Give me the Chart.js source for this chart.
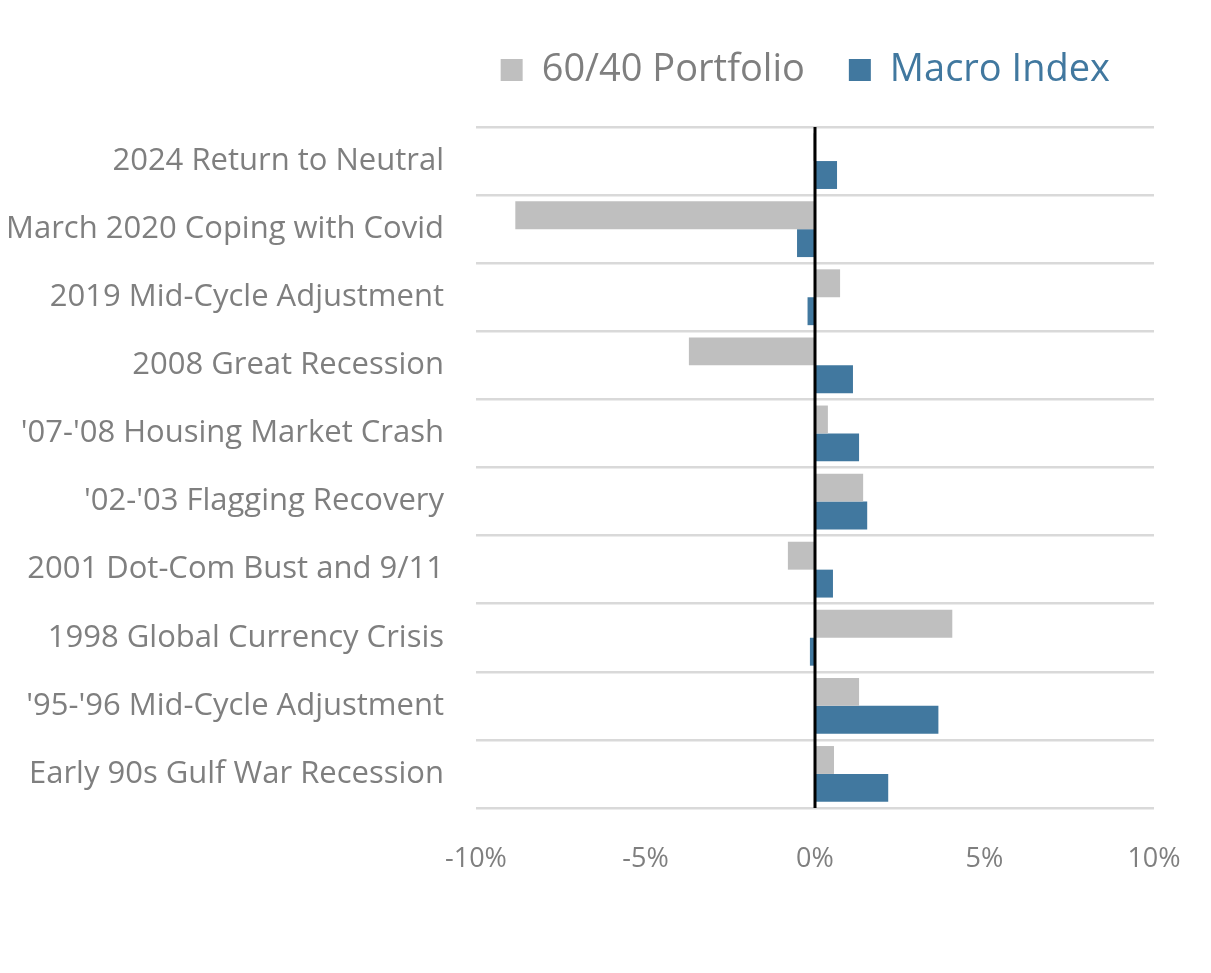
<!DOCTYPE html>
<html>
<head>
<meta charset="utf-8">
<script src="https://cdn.jsdelivr.net/npm/chart.js@4.4.1/dist/chart.umd.min.js"></script>
<style>
  html, body { margin: 0; padding: 0; background: #fff; }
  #wrap { width: 1211px; height: 973px; }
</style>
</head>
<body>
<div id="wrap"><canvas id="chart"></canvas></div>
<script>
// 시나리오별 수익률 (%)
const categories = [
    "2024 Return to Neutral",
    "March 2020 Coping with Covid",
    "2019 Mid-Cycle Adjustment",
    "2008 Great Recession",
    "'07-'08 Housing Market Crash",
    "'02-'03 Flagging Recovery",
    "2001 Dot-Com Bust and 9/11",
    "1998 Global Currency Crisis",
    "'95-'96 Mid-Cycle Adjustment",
    "Early 90s Gulf War Recession"
];
const portfolio6040 = [-0.05, -8.84, 0.74, -3.72, 0.38, 1.42, -0.80, 4.05, 1.30, 0.56];
const macroIndex = [0.65, -0.53, -0.22, 1.12, 1.30, 1.54, 0.53, -0.15, 3.64, 2.16];
const xTicks = [-10, -5, 0, 5, 10];

const GRAY = '#bfbfbf';
const BLUE = '#41789f';
const TEXT = '#7f7f7f';
const FONT = "'Open Sans', 'Noto Sans', sans-serif";

// 0% 세로선 (막대 위에 그림)
const zeroLine = {
    id: 'zeroLine',
    afterDatasetsDraw(chart) {
        const { ctx, chartArea, scales } = chart;
        const x = scales.x.getPixelForValue(0);
        ctx.save();
        ctx.strokeStyle = '#000';
        ctx.lineWidth = 3;
        ctx.beginPath();
        ctx.moveTo(x, chartArea.top);
        ctx.lineTo(x, chartArea.bottom);
        ctx.stroke();
        ctx.restore();
    }
};

// 범례 아래 여백 추가
const legendSpacer = {
    id: 'legendSpacer',
    beforeInit(chart) {
        const origFit = chart.legend.fit;
        chart.legend.fit = function () {
            origFit.call(this);
            this.height += 28;
        };
    }
};

const ctx = document.getElementById('chart').getContext('2d');
new Chart(ctx, {
    type: 'bar',
    data: {
        labels: categories,
        datasets: [{
            label: '60/40 Portfolio',
            data: portfolio6040,
            backgroundColor: GRAY,
            borderWidth: 0,
            categoryPercentage: 0.82,
            barPercentage: 1.0
        }, {
            label: 'Macro Index',
            data: macroIndex,
            backgroundColor: BLUE,
            borderWidth: 0,
            categoryPercentage: 0.82,
            barPercentage: 1.0
        }]
    },
    options: {
        indexAxis: 'y',
        responsive: true,
        maintainAspectRatio: false,
        animation: false,
        layout: { padding: { left: 8, right: 57, top: 7, bottom: 0 } },
        plugins: {
            tooltip: { enabled: false },
            legend: {
                display: true,
                position: 'top',
                align: 'end',
                labels: {
                    boxWidth: 22,
                    boxHeight: 22,
                    padding: 44,
                    font: { family: FONT, size: 38 },
                    generateLabels(chart) {
                        const items = Chart.defaults.plugins.legend.labels.generateLabels(chart);
                        items.forEach((it, i) => {
                            it.fontColor = i === 0 ? TEXT : BLUE;
                            it.lineWidth = 0;
                        });
                        return items;
                    }
                }
            }
        },
        scales: {
            x: {
                min: -10,
                max: 10,
                afterBuildTicks(scale) {
                    scale.ticks = xTicks.map(v => ({ value: v }));
                },
                afterFit(scale) {
                    scale.height = 165;
                    scale.paddingRight = 0;
                },
                grid: { display: false, drawTicks: false },
                border: { display: false },
                ticks: {
                    padding: 35,
                    color: TEXT,
                    font: { family: FONT, size: 27 },
                    callback: v => v + '%'
                }
            },
            y: {
                afterFit(scale) { scale.width = 468; },
                grid: {
                    color: '#d9d9d9',
                    lineWidth: 2.5,
                    drawTicks: false,
                    offset: true
                },
                border: { display: false },
                ticks: {
                    padding: 32,
                    color: TEXT,
                    font: { family: FONT, size: 31 }
                }
            }
        }
    },
    plugins: [zeroLine, legendSpacer]
});
</script>
</body>
</html>
